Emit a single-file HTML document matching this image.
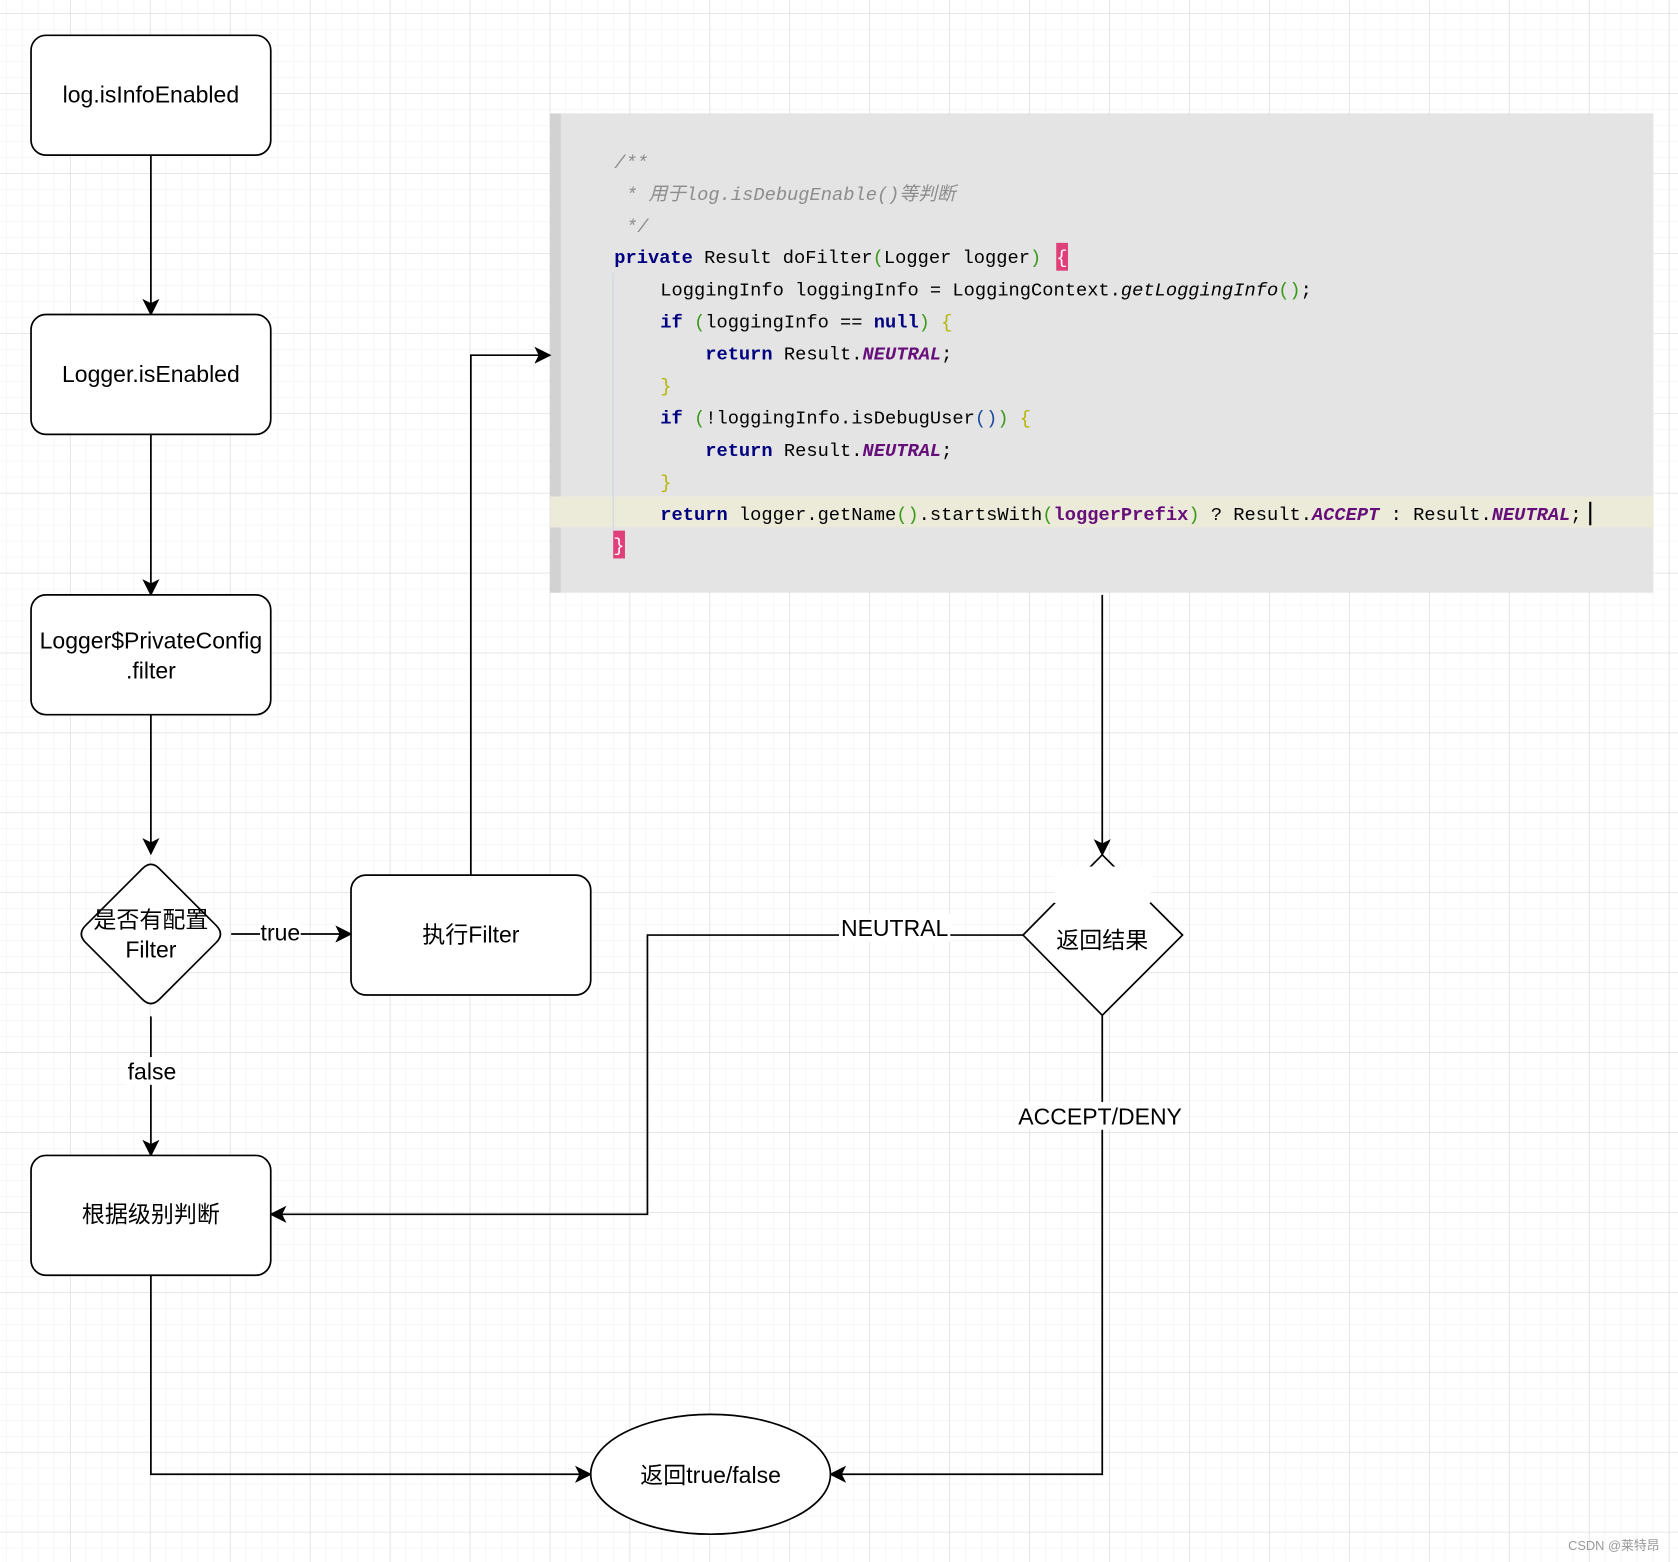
<!DOCTYPE html>
<html><head><meta charset="utf-8"><style>
html,body{margin:0;padding:0;background:#fff;width:1678px;height:1562px;overflow:hidden}
svg{display:block}
.t{font-family:"Liberation Sans","Noto Sans CJK SC",sans-serif;font-size:21.5px;fill:#000;text-anchor:middle}
.c{font-family:"Liberation Mono","Noto Sans CJK SC",monospace;font-size:17.5px;fill:#000}
.k{fill:#000080;font-weight:bold}
.cm{fill:#8c8c8c;font-style:italic}
.n{fill:#660e7a;font-weight:bold;font-style:italic}
.g{fill:#3a9a1a}
.y{fill:#b5b500}
</style></head><body>
<svg width="1678" height="1562" viewBox="0 0 1568 1460" preserveAspectRatio="none" xmlns="http://www.w3.org/2000/svg">
<defs>
<pattern id="minor" width="14.94" height="14.94" patternUnits="userSpaceOnUse" x="6" y="-2">
<path d="M14.94 0V14.94M0 14.94H14.94" stroke="#efefef" stroke-width="1" fill="none"/>
</pattern>
<pattern id="major" width="74.7" height="74.7" patternUnits="userSpaceOnUse" x="-8.7" y="-61.7">
<path d="M74.7 0V74.7M0 74.7H74.7" stroke="#d6d6d6" stroke-width="1" fill="none"/>
</pattern>
<marker id="a" viewBox="0 0 12 12" refX="11" refY="6" markerWidth="16" markerHeight="16" markerUnits="userSpaceOnUse" orient="auto">
<path d="M0,0 L12,6 L0,12 L3,6 Z" fill="#000"/>
</marker>
</defs>
<rect width="1568" height="1460" fill="url(#minor)"/>
<rect width="1568" height="1460" fill="url(#major)"/>

<rect x="514" y="106" width="1031" height="448" fill="#e4e4e4"/>
<rect x="514" y="106" width="10" height="448" fill="#d2d2d2"/>
<rect x="514" y="464" width="1031" height="29" fill="#ecead9"/>
<line x1="573" y1="255" x2="573" y2="495" stroke="#cfd6e0"/>
<text class="c cm" x="574" y="157">/**</text>
<text class="c cm" x="585" y="187">* 用于log.isDebugEnable()等判断</text>
<text class="c cm" x="585" y="217">*/</text>
<text class="c" x="574" y="246"><tspan class="k">private</tspan> Result doFilter<tspan class="g">(</tspan>Logger logger<tspan class="g">)</tspan> </text>
<rect x="987" y="227" width="11" height="26" fill="#e0407a"/><text class="c" x="987" y="246" style="fill:#fff">{</text>
<text class="c" x="617" y="276">LoggingInfo loggingInfo = LoggingContext.<tspan font-style="italic">getLoggingInfo</tspan><tspan class="g">()</tspan>;</text>
<text class="c" x="617" y="306"><tspan class="k">if</tspan> <tspan class="g">(</tspan>loggingInfo == <tspan class="k">null</tspan><tspan class="g">)</tspan> <tspan class="y">{</tspan></text>
<text class="c" x="659" y="336"><tspan class="k">return</tspan> Result.<tspan class="n">NEUTRAL</tspan>;</text>
<text class="c y" x="617" y="366">}</text>
<text class="c" x="617" y="396"><tspan class="k">if</tspan> <tspan class="g">(</tspan>!loggingInfo.isDebugUser<tspan fill="#1a4aa0">()</tspan><tspan class="g">)</tspan> <tspan class="y">{</tspan></text>
<text class="c" x="659" y="426"><tspan class="k">return</tspan> Result.<tspan class="n">NEUTRAL</tspan>;</text>
<text class="c y" x="617" y="456">}</text>
<text class="c" x="617" y="486"><tspan class="k">return</tspan> logger.getName<tspan class="g">()</tspan>.startsWith<tspan class="g">(</tspan><tspan fill="#660e7a" font-weight="bold">loggerPrefix</tspan><tspan class="g">)</tspan> ? Result.<tspan class="n">ACCEPT</tspan> : Result.<tspan class="n">NEUTRAL</tspan>;</text>
<rect x="1485" y="469" width="2" height="22" fill="#000"/>
<rect x="573" y="496" width="11" height="26" fill="#e0407a"/><text class="c" x="573" y="515" style="fill:#fff">}</text>

<g stroke="#000" stroke-width="1.6" fill="none">
<path d="M141 145V294" marker-end="url(#a)"/>
<path d="M141 406V556" marker-end="url(#a)"/>
<path d="M141 668V798" marker-end="url(#a)"/>
<path d="M216 873H328" marker-end="url(#a)"/>
<path d="M141 950V1080" marker-end="url(#a)"/>
<path d="M440 818V332H514" marker-end="url(#a)"/>
<path d="M1030 556V799" marker-end="url(#a)"/>
<path d="M956 874H605V1135H253" marker-end="url(#a)"/>
<path d="M1030 949V1378H776" marker-end="url(#a)"/>
<path d="M141 1192V1378H552" marker-end="url(#a)"/>
</g>

<g stroke="#000" stroke-width="1.6" fill="#fff">
<rect x="29" y="33" width="224" height="112" rx="14"/>
<rect x="29" y="294" width="224" height="112" rx="14"/>
<rect x="29" y="556" width="224" height="112" rx="14"/>
<path d="M133 812Q141 804 149 812L202 865Q210 873 202 881L149 934Q141 942 133 934L80 881Q72 873 80 865Z"/>
<rect x="328" y="818" width="224" height="112" rx="14"/>
<polygon points="1030,799 1105,874 1030,949 956,874"/>
<rect x="29" y="1080" width="224" height="112" rx="14"/>
<ellipse cx="664" cy="1378" rx="112" ry="56"/>
</g>
<rect x="985" y="810" width="90" height="34" fill="#fff"/>

<text class="t" x="141" y="96">log.isInfoEnabled</text>
<text class="t" x="141" y="357">Logger.isEnabled</text>
<text class="t" x="141" y="606">Logger$PrivateConfig</text>
<text class="t" x="141" y="634">.filter</text>
<text class="t" x="141" y="867">是否有配置</text>
<text class="t" x="141" y="895">Filter</text>
<text class="t" x="440" y="881">执行Filter</text>
<text class="t" x="1030" y="886">返回结果</text>
<text class="t" x="141" y="1142">根据级别判断</text>
<text class="t" x="664" y="1386">返回true/false</text>
<rect x="243" y="860" width="38" height="24" fill="#fff"/>
<text class="t" x="262" y="879">true</text>
<rect x="117" y="988" width="50" height="26" fill="#fff"/>
<text class="t" x="142" y="1009">false</text>
<rect x="784" y="854" width="104" height="26" fill="#fff"/>
<text class="t" x="836" y="875">NEUTRAL</text>
<rect x="950" y="1030" width="158" height="26" fill="#fff"/>
<text class="t" x="1028" y="1051">ACCEPT/DENY</text>
<text x="1508" y="1449" font-family="Liberation Sans,Noto Sans CJK SC,sans-serif" font-size="12" fill="#999" text-anchor="middle">CSDN @莱特昂</text>
</svg>
</body></html>
